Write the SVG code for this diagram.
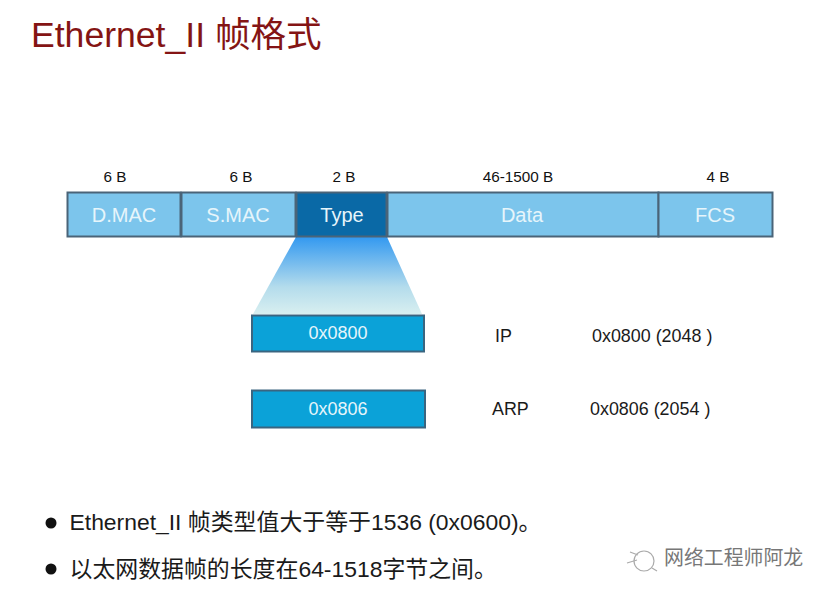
<svg xmlns="http://www.w3.org/2000/svg" width="830" height="594" viewBox="0 0 830 594">
<style>
text{font-family:"Liberation Sans","Noto Sans CJK SC",sans-serif}
.c{text-anchor:middle}
.f{fill:#7cc5ec;stroke:#4a6478;stroke-width:2}
.v{fill:#0ba2d8;stroke:#3a6580;stroke-width:2}
.w{fill:#e6f5fb;font-size:20px}
.b{fill:#111;font-size:15.300px}
.k{fill:#1a1a1a;font-size:17.900px}
.l{fill:#1a1a1a;font-size:22.900px}
</style>
<defs>
<linearGradient id="g" x1="0" y1="0" x2="0" y2="1">
<stop offset="0" stop-color="#3399f0"/>
<stop offset="0.65" stop-color="#b4dcec"/>
<stop offset="1" stop-color="#d8eff0"/>
</linearGradient>
</defs>
<rect width="830" height="594" fill="#fff"/>
<text id="title" x="31" y="47" font-size="35.600" fill="#841414">Ethernet_II 帧格式</text>
<g id="sizes">
<text class="b c" x="115" y="182">6 B</text>
<text class="b c" x="241" y="182">6 B</text>
<text class="b c" x="344" y="182">2 B</text>
<text class="b c" x="518" y="182">46-1500 B</text>
<text class="b c" x="718" y="182">4 B</text>
</g>
<g id="connectors">
<polygon points="296,237 387,237 422,314 253,314" fill="url(#g)"/>
</g>
<g id="dmac"><rect class="f" x="67.500" y="192.500" width="113" height="44"/><text class="w c" x="124" y="222">D.MAC</text></g>
<g id="smac"><rect class="f" x="181.500" y="192.500" width="114" height="44"/><text class="w c" x="238" y="222">S.MAC</text></g>
<g id="type"><rect x="296.500" y="192.500" width="90" height="44" fill="#0a69a6" stroke="#4a6478" stroke-width="2"/><text class="w c" x="342" y="222">Type</text></g>
<g id="data"><rect class="f" x="387.500" y="192.500" width="271" height="44"/><text class="w c" x="522" y="222">Data</text></g>
<g id="fcs"><rect class="f" x="658.500" y="192.500" width="114" height="44"/><text class="w c" x="715" y="222">FCS</text></g>
<g id="v0800"><rect class="v" x="252" y="315.500" width="172" height="36"/><text class="c" x="338" y="339" font-size="18" fill="#e6f5fb">0x0800</text></g>
<g id="v0806"><rect class="v" x="252" y="390.500" width="173" height="37"/><text class="c" x="338" y="415" font-size="18" fill="#e6f5fb">0x0806</text></g>
<g id="table">
<text class="k" x="495" y="342">IP</text>
<text class="k" x="592" y="342">0x0800 (2048 )</text>
<text class="k" x="492" y="415">ARP</text>
<text class="k" x="590" y="415">0x0806 (2054 )</text>
</g>
<g id="notes">
<circle cx="51" cy="523" r="5.500" fill="#111"/>
<text class="l" x="69.500" y="530">Ethernet_II 帧类型值大于等于1536 (0x0600)。</text>
<circle cx="51" cy="569" r="5.500" fill="#111"/>
<text class="l" x="69.500" y="577">以太网数据帧的长度在64-1518字节之间。</text>
</g>
<g id="watermark">
<g fill="none" stroke="#aaa" stroke-width="1.200">
<circle cx="644" cy="561" r="10"/>
<path d="M627 563l10-3M630 552l8 3M652 568l5 3"/>
</g>
<text x="664" y="565" font-size="19.900" fill="#777">网络工程师阿龙</text>
</g>
</svg>
